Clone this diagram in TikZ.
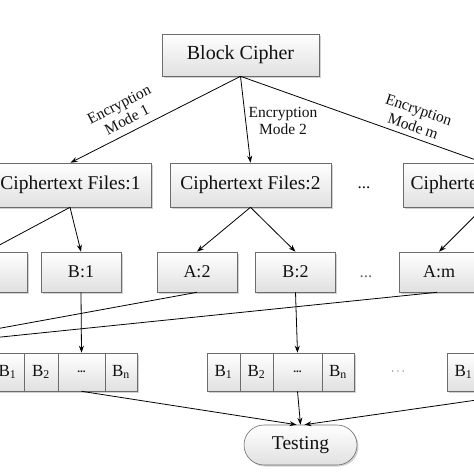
\documentclass[tikz,border=0pt]{standalone}
\usepackage{fontspec}
\setmainfont{Liberation Serif}
\usetikzlibrary{shadows,arrows.meta}
\definecolor{txt}{HTML}{111111}
\tikzset{
  box/.style={draw=gray!85!black, line width=0.6pt, top color=white, bottom color=gray!24,
    drop shadow={shadow xshift=1.5pt, shadow yshift=-1.5pt, fill=gray!45, opacity=0.8},
    inner sep=0pt, text=txt, font=\fontsize{19.5}{22}\selectfont},
  cell/.style={box, minimum height=38pt, font=\fontsize{17}{20}\selectfont},
  lbl/.style={text=txt, font=\fontsize{15.5}{17.5}\selectfont, align=center, inner sep=0pt},
  dots/.style={text=txt, font=\fontsize{17}{20}\selectfont, inner sep=0pt},
  conn/.style={line width=0.8pt, black},
  arr/.style={conn, -{Stealth[length=7pt,width=5pt]}}
}
\begin{document}
\begin{tikzpicture}[x=1pt,y=-1pt]
\useasboundingbox (0,0) rectangle (474,474);
\clip (0,0) rectangle (474,474);
% top
\node[box, minimum width=157pt, minimum height=42pt, font=\fontsize{20}{24}\selectfont] (bc) at (240.5,55) {Block Cipher};
% row 2
\node[box, minimum width=161pt, minimum height=44pt] (c1) at (70.5,185) {Ciphertext Files:1};
\node[box, minimum width=161pt, minimum height=44pt] (c2) at (250.5,185) {Ciphertext Files:2};
\node[box, minimum width=161pt, minimum height=44pt] (c3) at (483.5,185) {Ciphertext Files:m};
\node[dots] (d2) at (364,188) {...};
% row 3
\node[box, minimum width=80pt, minimum height=40pt, font=\fontsize{18}{21}\selectfont] (a1) at (-13,272) {A:1};
\node[box, minimum width=80pt, minimum height=40pt, font=\fontsize{18}{21}\selectfont] (b1) at (81,272) {B:1};
\node[box, minimum width=80pt, minimum height=40pt, font=\fontsize{18}{21}\selectfont] (a2) at (197,272) {A:2};
\node[box, minimum width=80pt, minimum height=40pt, font=\fontsize{18}{21}\selectfont] (b2) at (295.5,272) {B:2};
\node[box, minimum width=80pt, minimum height=40pt, font=\fontsize{18}{21}\selectfont] (am) at (439,272) {A:m};
\node[box, minimum width=80pt, minimum height=40pt, font=\fontsize{18}{21}\selectfont] (bm) at (537,272) {B:m};
\node[dots, text=gray!80!black] (d3) at (366,277) {...};
% row 4 group 1
\node[cell, minimum width=33pt] (g1b1) at (7.5,372) {B\textsubscript{1}};
\node[cell, minimum width=34pt] (g1b2) at (41,372) {B\textsubscript{2}};
\node[cell, minimum width=47pt, font=\bfseries\fontsize{11}{12}\selectfont] (g1d) at (81.5,372) {...};
\node[cell, minimum width=32pt] (g1bn) at (121,372) {B\textsubscript{n}};
% row 4 group 2
\node[cell, minimum width=33pt] (g2b1) at (223.5,372) {B\textsubscript{1}};
\node[cell, minimum width=33pt] (g2b2) at (256.5,372) {B\textsubscript{2}};
\node[cell, minimum width=49pt, font=\bfseries\fontsize{11}{12}\selectfont] (g2d) at (297.5,372) {...};
\node[cell, minimum width=32pt] (g2bn) at (338,372) {B\textsubscript{n}};
% row 4 group 3
\node[cell, minimum width=33pt] (g3b1) at (463.5,372) {B\textsubscript{1}};
\node[cell, minimum width=33pt] (g3b2) at (496.5,372) {B\textsubscript{2}};
\node[cell, minimum width=49pt, font=\bfseries\fontsize{11}{12}\selectfont] (g3d) at (537.5,372) {...};
\node[dots, text=gray!70!black, font=\fontsize{12}{14}\selectfont] (d4) at (398,372) {$\cdots$};
% testing
\node[box, rounded corners=20pt, minimum width=113pt, minimum height=40pt] (test) at (300.5,445) {Testing};
% off-page targets of the first group
\coordinate (offa2) at (-136,353);
\coordinate (offam) at (-155,353);
% connectors
\draw[arr] (bc.south) -- (c1.north);
\draw[arr] (bc.south) -- (c2.north);
\draw[arr] (bc.south) -- (c3.north);
\draw[arr] ([xshift=-0.5pt]c1.south) -- (a1.north);
\draw[arr] ([xshift=-0.5pt]c1.south) -- (b1.north);
\draw[arr] (c2.south) -- (a2.north);
\draw[arr] (c2.south) -- (b2.north);
\draw[arr] (c3.south) -- (am.north);
\draw[arr] (c3.south) -- (bm.north);
\draw[arr] (b1.south) -- (g1d.north);
\draw[arr] (b2.south) -- (g2d.north);
\draw[arr] (a2.south) -- (offa2);
\draw[arr] ([xshift=-2pt]am.south) -- (offam);
\draw[arr] (g1d.south) -- ([xshift=-4pt]test.north);
\draw[arr] (g2d.south) -- (test.north);
\draw[arr] (g3d.south) -- ([xshift=4pt]test.north);
% labels
\node[lbl, rotate=27] (l1) at (123,112) {Encryption\\Mode 1};
\node[lbl] (l2) at (283,121) {Encryption\\Mode 2};
\node[lbl, rotate=-19] (l3) at (416,118) {Encryption\\Mode m};
\end{tikzpicture}
\end{document}
